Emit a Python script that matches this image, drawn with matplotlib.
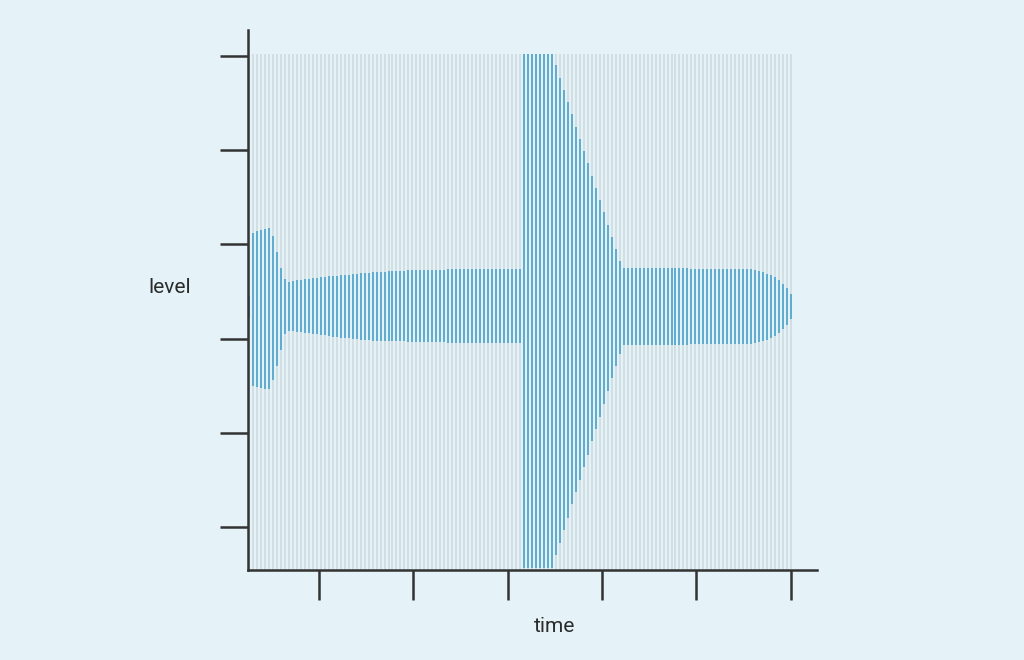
import numpy as np
import matplotlib
matplotlib.use("Agg")
import matplotlib.pyplot as plt

# one vertical line per time step, level range of each line (airplane shape)
time = np.arange(137)

top = [3.45,
       4.12, 4.14, 4.15, 4.16, 4.17,
       4.09, 3.92, 3.75, 3.63,
       3.60, 3.61, 3.62, 3.62, 3.63, 3.63, 3.64, 3.64, 3.65, 3.65,
       3.66, 3.67, 3.67, 3.68, 3.68, 3.68, 3.69, 3.69, 3.70, 3.70,
       3.70, 3.71, 3.71, 3.71, 3.71, 3.72, 3.72, 3.72, 3.72, 3.72,
       3.73, 3.73, 3.73, 3.73, 3.73, 3.73, 3.73, 3.73, 3.73, 3.73,
       3.74, 3.74, 3.74, 3.74, 3.74, 3.74, 3.74, 3.74, 3.74, 3.74,
       3.74, 3.74, 3.74, 3.74, 3.74, 3.74, 3.74, 3.74, 3.74,
       6.02, 6.02, 6.02, 6.02, 6.02, 6.02, 6.02, 6.02,
       5.90, 5.77, 5.64, 5.51, 5.38, 5.25, 5.12, 4.99, 4.86, 4.73,
       4.60, 4.47, 4.34, 4.21, 4.08, 3.95, 3.82,
       3.75, 3.75, 3.75, 3.75, 3.75, 3.75, 3.75, 3.75, 3.75, 3.75,
       3.75, 3.75, 3.75, 3.75, 3.75, 3.75, 3.75,
       3.74, 3.74, 3.74, 3.74, 3.74, 3.74, 3.74, 3.74, 3.74, 3.74,
       3.74, 3.74, 3.74, 3.74, 3.74,
       3.74, 3.73, 3.72, 3.71, 3.69, 3.68, 3.65, 3.62, 3.58, 3.54, 3.47]

bottom = [3.22,
          2.50, 2.49, 2.48, 2.47, 2.46,
          2.56, 2.71, 2.88, 3.05,
          3.08, 3.08, 3.07, 3.07, 3.06, 3.06, 3.05, 3.05, 3.04, 3.04,
          3.03, 3.02, 3.02, 3.01, 3.01, 3.01, 3.00, 3.00, 2.99, 2.99,
          2.99, 2.98, 2.98, 2.98, 2.98, 2.97, 2.97, 2.97, 2.97, 2.97,
          2.96, 2.96, 2.96, 2.96, 2.96, 2.96, 2.96, 2.96, 2.96, 2.96,
          2.95, 2.95, 2.95, 2.95, 2.95, 2.95, 2.95, 2.95, 2.95, 2.95,
          2.95, 2.95, 2.95, 2.95, 2.95, 2.95, 2.95, 2.95, 2.95,
          0.57, 0.57, 0.57, 0.57, 0.57, 0.57, 0.57, 0.57,
          0.70, 0.83, 0.97, 1.10, 1.24, 1.37, 1.50, 1.64, 1.77, 1.91,
          2.04, 2.17, 2.31, 2.44, 2.58, 2.71, 2.84,
          2.93, 2.93, 2.93, 2.93, 2.93, 2.93, 2.93, 2.93, 2.93, 2.93,
          2.93, 2.93, 2.93, 2.93, 2.93, 2.93, 2.93,
          2.94, 2.94, 2.94, 2.94, 2.94, 2.94, 2.94, 2.94, 2.94, 2.94,
          2.94, 2.94, 2.94, 2.94, 2.94,
          2.94, 2.95, 2.96, 2.97, 2.99, 3.01, 3.03, 3.06, 3.10, 3.14, 3.21]

grid_top = 6.02
xticks = [17.6, 41.2, 65.0, 88.6, 112.2, 136.0]
yticks = [1, 2, 3, 4, 5, 6]

bg = "#e5f3f8"
dark = "#333333"

fig = plt.figure(figsize=(10.24, 6.6), dpi=100, facecolor=bg)
ax = fig.add_axes([248/1024, 90/660, 569/1024, 540/660])
ax.set_facecolor(bg)

ax.set_xlim(-0.25, 142.5)
ax.set_ylim(0.544, 6.276)

# light background lines over the whole range
ax.vlines(time, 0.544, grid_top, color="#cbd9dd", linewidth=1.1, zorder=1)
# blue lines forming the plane
ax.vlines(time, bottom, top, color="#62acd0", linewidth=1.45, zorder=2)

for s in ["top", "right"]:
    ax.spines[s].set_visible(False)
for s in ["left", "bottom"]:
    ax.spines[s].set_color(dark)
    ax.spines[s].set_linewidth(1.8)
    ax.spines[s].set_zorder(3)

ax.set_xticks(xticks)
ax.set_yticks(yticks)
ax.set_xticklabels([])
ax.set_yticklabels([])
ax.tick_params(axis="x", length=21.5, width=1.8, color=dark, direction="out")
ax.tick_params(axis="y", length=20, width=1.8, color=dark, direction="out")

fig.text(170/1024, 1 - 288/660, "level", ha="center", va="center",
         fontsize=15, family="Roboto", color="#2b2b2b")
fig.text(555/1024, 1 - 626/660, "time", ha="center", va="center",
         fontsize=15, family="Roboto", color="#2b2b2b")

fig.savefig("out.png", dpi=100, facecolor=bg)
